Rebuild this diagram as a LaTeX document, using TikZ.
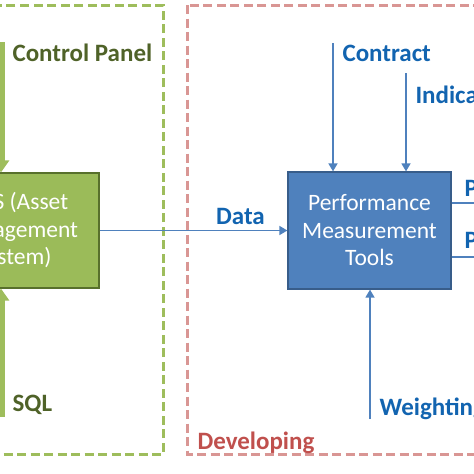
\documentclass[tikz,border=0pt]{standalone}
\usepackage{fontspec}
\setmainfont{Carlito}
\usetikzlibrary{arrows.meta}
\definecolor{amsfill}{HTML}{9BBB59}
\definecolor{amsedge}{RGB}{88,112,44}
\definecolor{pmtfill}{HTML}{4F81BD}
\definecolor{pmtedge}{HTML}{385D8A}
\definecolor{greenframe}{RGB}{158,189,92}
\definecolor{redframe}{HTML}{D99694}
\definecolor{labelgreen}{HTML}{4F6228}
\definecolor{labelblue}{RGB}{18,100,176}
\definecolor{labelred}{RGB}{192,80,77}
\begin{document}
\begin{tikzpicture}[x=1pt,y=-1pt,
    frame/.style={line width=3pt,dash pattern=on 9pt off 4.5pt},
    box/.style={draw,line width=1.2pt,align=center,text=white,
      font=\fontsize{23.5}{27.5}\selectfont},
    lbl/.style={anchor=west,font=\fontsize{25}{30}\selectfont\bfseries},
    garrow/.style={greenframe,line width=7pt,-{Triangle[width=16pt,length=12pt]}},
    barrow/.style={pmtfill,line width=1.5pt,-{Triangle[width=9pt,length=8pt]}}]
   \useasboundingbox (0,0) rectangle (474,474);
   \clip (0,0) rectangle (474,474);
   % the two dashed regions
   \draw[frame,greenframe] (-20,5) rectangle (163,454);
   \draw[frame,redframe] (187,5) rectangle (520,454);
   % the two blocks
   \node[box,fill=amsfill,draw=amsedge,minimum width=170pt,minimum height=115pt]
      (ams) at (14,230.5) {AMS (Asset\\Management\\System)};
   \node[box,fill=pmtfill,draw=pmtedge,minimum width=163pt,minimum height=117pt]
      (pmt) at (369.5,230.5) {Performance\\Measurement\\Tools};
   % inputs of the AMS
   \coordinate (panel) at (1,42);
   \coordinate (sql) at (1,417);
   \draw[garrow] (panel) -- (panel |- ams.north);
   \draw[garrow] (sql) -- (sql |- ams.south);
   \node[lbl,labelgreen] (panellabel) at (9,53) {Control Panel};
   \node[lbl,labelgreen] (sqllabel) at (9,405) {SQL};
   % data flow
   \draw[barrow] (ams.east) -- node[pos=0.75,above=2pt,font=\fontsize{25}{30}\selectfont\bfseries,labelblue] (datalabel) {Data} (pmt.west);
   % inputs of the tools
   \coordinate (contract) at (333,43);
   \coordinate (indic) at (406,73);
   \coordinate (weight) at (370,419);
   \draw[barrow] (contract) -- (contract |- pmt.north);
   \draw[barrow] (indic) -- (indic |- pmt.north);
   \draw[barrow] (weight) -- (weight |- pmt.south);
   \node[lbl,labelblue] (contractlabel) at (339,53) {Contract};
   \node[lbl,labelblue] (indiclabel) at (412,95) {Indicators};
   \node[lbl,labelblue] (weightlabel) at (376,409) {Weighting};
   % outputs
   \coordinate (outa) at (500,203);
   \coordinate (outb) at (500,257);
   \draw[barrow] (outa -| pmt.east) -- (outa);
   \draw[barrow] (outb -| pmt.east) -- (outb);
   \node[lbl,labelblue] (outalabel) at (461,188) {P};
   \node[lbl,labelblue] (outblabel) at (461,240) {P};
   \node[lbl,labelred] (devlabel) at (194,443) {Developing};
\end{tikzpicture}
\end{document}
